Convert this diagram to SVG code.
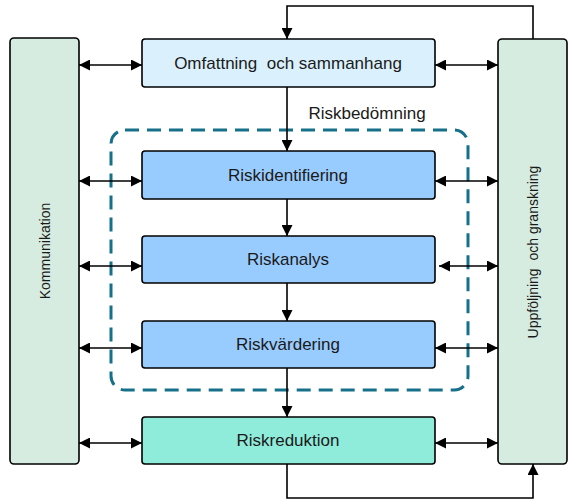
<svg xmlns="http://www.w3.org/2000/svg" width="578" height="504" viewBox="0 0 578 504">
<style>
.box{stroke:#000;stroke-width:1.6}
.lbl{font-family:"Liberation Sans",Arial,sans-serif;font-size:17px;fill:#1a1a1a;text-anchor:middle;dominant-baseline:central;white-space:pre}
.side{font-size:14px}
.ln{stroke:#000;stroke-width:1.6;fill:none}
</style>
<defs>
<marker id="ah" viewBox="0 0 11 11" refX="11" refY="5.5" markerWidth="11" markerHeight="11" markerUnits="userSpaceOnUse" orient="auto-start-reverse">
<path d="M0,0 L11,5.5 L0,11 Z" fill="#000"/>
</marker>
</defs>
<rect width="578" height="504" fill="#fff"/>
<g id="riskbedomning">
<rect x="111" y="130" width="357" height="260" rx="14" fill="none" stroke="#17708a" stroke-width="3" stroke-dasharray="14,8"/>
<text class="lbl" x="367" y="113">Riskbedömning</text>
</g>
<g id="kommunikation">
<rect class="box" x="10" y="38" width="69" height="426" rx="4" fill="#d7ece1"/>
<text class="lbl side" transform="translate(45,251) rotate(-90)">Kommunikation</text>
</g>
<g id="uppfoljning">
<rect class="box" x="498" y="39" width="69" height="425" rx="4" fill="#d7ece1"/>
<text class="lbl side" xml:space="preserve" transform="translate(533,252) rotate(-90)">Uppföljning  och granskning</text>
</g>
<g id="omfattning">
<rect class="box" x="142" y="39" width="293" height="48" rx="3" fill="#daf1fd"/>
<text class="lbl" xml:space="preserve" x="288" y="63">Omfattning  och sammanhang</text>
</g>
<g id="riskidentifiering">
<rect class="box" x="142" y="151" width="293" height="48" rx="3" fill="#99ccfe"/>
<text class="lbl" x="288" y="175">Riskidentifiering</text>
</g>
<g id="riskanalys">
<rect class="box" x="142" y="236" width="293" height="47" rx="3" fill="#99ccfe"/>
<text class="lbl" x="288" y="259">Riskanalys</text>
</g>
<g id="riskvardering">
<rect class="box" x="142" y="321" width="293" height="47" rx="3" fill="#99ccfe"/>
<text class="lbl" x="288" y="344">Riskvärdering</text>
</g>
<g id="riskreduktion">
<rect class="box" x="142" y="417" width="293" height="47" rx="3" fill="#90ecda"/>
<text class="lbl" x="288" y="440">Riskreduktion</text>
</g>
<g id="connectors">
<path class="ln" d="M287,87 V151" marker-end="url(#ah)"/>
<path class="ln" d="M287,199 V236" marker-end="url(#ah)"/>
<path class="ln" d="M287,283 V321" marker-end="url(#ah)"/>
<path class="ln" d="M287,368 V417" marker-end="url(#ah)"/>
<path class="ln" d="M533,39 V6 H287 V39" marker-end="url(#ah)"/>
<path class="ln" d="M287,464 V498 H533 V464" marker-end="url(#ah)"/>
<path class="ln" d="M79,65 H142" marker-start="url(#ah)" marker-end="url(#ah)"/>
<path class="ln" d="M79,181 H142" marker-start="url(#ah)" marker-end="url(#ah)"/>
<path class="ln" d="M79,266 H142" marker-start="url(#ah)" marker-end="url(#ah)"/>
<path class="ln" d="M79,348 H142" marker-start="url(#ah)" marker-end="url(#ah)"/>
<path class="ln" d="M79,443 H142" marker-start="url(#ah)" marker-end="url(#ah)"/>
<path class="ln" d="M435,65 H498" marker-start="url(#ah)" marker-end="url(#ah)"/>
<path class="ln" d="M435,181 H498" marker-start="url(#ah)" marker-end="url(#ah)"/>
<path class="ln" d="M439,266 H498" marker-start="url(#ah)" marker-end="url(#ah)"/>
<path class="ln" d="M435,348 H498" marker-start="url(#ah)" marker-end="url(#ah)"/>
<path class="ln" d="M435,443 H498" marker-start="url(#ah)" marker-end="url(#ah)"/>
</g>
</svg>
